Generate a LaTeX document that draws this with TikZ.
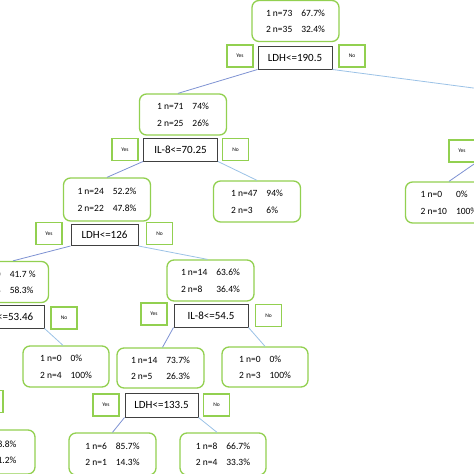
\documentclass[tikz,border=0pt]{standalone}
\usepackage{fontspec}
\setmainfont{Carlito}
\definecolor{boxgreen}{RGB}{146,208,80}
\definecolor{splitgray}{RGB}{64,64,64}
\definecolor{yesblue}{RGB}{125,145,210}
\definecolor{noblue}{RGB}{155,194,230}
\tikzset{
  datbox/.style={draw=boxgreen,line width=1.3pt,rounded corners=7pt,fill=white,
    minimum width=87,minimum height=41,inner sep=0pt,font=\fontsize{9.5}{16.5}\selectfont},
  splitbox/.style={draw=splitgray,line width=1pt,fill=white,
    minimum width=74,minimum height=23,inner sep=0pt,font=\fontsize{11}{13}\selectfont},
  ynbox/.style={draw=boxgreen,line width=1.3pt,fill=white,
    minimum width=26,minimum height=22,inner sep=0pt,font=\fontsize{5.5}{6}\selectfont},
  yesline/.style={draw=yesblue,line width=0.8pt},
  noline/.style={draw=noblue,line width=0.8pt}
}
\newcommand{\cnt}[4]{\begin{tabular}{@{}l@{\hspace{9pt}}l@{}}1 n=#1 & #2\\2 n=#3 & #4\end{tabular}}
\begin{document}
\begin{tikzpicture}[x=1pt,y=-1pt]
  \useasboundingbox (0,0) rectangle (474,474);
  \clip (0,0) rectangle (474,474);

  % Корінь: LDH.
  \node[datbox] (n0) at (295.5,21) {\cnt{73}{67.7\%}{35}{32.4\%}};
  \node[splitbox] (s0) at (295,57.5) {LDH<=190.5};
  \node[ynbox] (y0) at (240,56) {Yes};
  \node[ynbox] (o0) at (352,56) {No};
  \coordinate (n9) at (519,94);
  \coordinate (s9) at (477,162);

  % Ліва гілка: IL-8.
  \node[datbox] (n1) at (183,114.5) {\cnt{71}{74\%}{25}{26\%}};
  \node[splitbox] (s1) at (180.5,149.5) {IL-8<=70.25};
  \node[ynbox] (y1) at (125,149.5) {Yes};
  \node[ynbox] (o1) at (235.5,149.5) {No};

  \node[datbox,minimum height=43] (n2) at (107,199.5) {\cnt{24}{52.2\%}{22}{47.8\%}};
  \node[splitbox,minimum width=67,minimum height=21] (s2) at (104.5,235) {LDH<=126};
  \node[ynbox] (y2) at (49,233.5) {Yes};
  \node[ynbox] (o2) at (159.5,233.5) {No};

  \node[datbox] (n3) at (257,201.5) {\cnt{47}{94\%}{3}{6\%}};

  \node[datbox] (n4) at (5,282) {\cnt{10}{41.7 \%}{14}{58.3\%}};
  \node[splitbox] (s4) at (7,316.5) {IL-8<=53.46};
  \node[ynbox] (o4) at (64,318) {No};

  \node[datbox] (n5) at (210.5,280.5) {\cnt{14}{63.6\%}{8}{36.4\%}};
  \node[splitbox] (s5) at (211,315.5) {IL-8<=54.5};
  \node[ynbox] (y5) at (154,314) {Yes};
  \node[ynbox] (o5) at (268.5,315.5) {No};

  \node[datbox,minimum width=86] (n6) at (66,366.5) {\cnt{0}{0\%}{4}{100\%}};

  \node[datbox,minimum height=40] (n7) at (160.5,368) {\cnt{14}{73.7\%}{5}{26.3\%}};
  \node[splitbox,minimum width=73,minimum height=24] (s7) at (161.5,405) {LDH<=133.5};
  \node[ynbox] (y7) at (106,405) {Yes};
  \node[ynbox] (o7) at (216.5,405) {No};

  \node[datbox,minimum width=86,minimum height=40] (n8) at (265,367) {\cnt{0}{0\%}{3}{100\%}};

  \node[datbox,minimum height=42] (n10) at (112.5,454) {\cnt{6}{85.7\%}{1}{14.3\%}};
  \node[datbox,minimum width=86,minimum height=42] (n11) at (223,454) {\cnt{8}{66.7\%}{4}{33.3\%}};

  \node[ynbox] (o12) at (-10,401.5) {No};
  \node[datbox,minimum width=96,minimum height=44] (n12) at (-13,452) {\cnt{10}{58.8\%}{7}{41.2\%}};

  % Права гілка.
  \node[ynbox] (y9) at (462,151) {Yes};
  \node[datbox] (n13) at (449,202.5) {\cnt{0}{0\%}{10}{100\%}};

  % З'єднання.
  \draw[yesline] (s0.south west) -- ([xshift=-5]n1.north);
  \draw[noline] (s0.south east) -- (n9);
  \draw[yesline] (s1.south west) -- (n2.north);
  \draw[noline] (s1.south east) -- (n3.north);
  \draw[yesline] (s2.south west) -- ([xshift=8]n4.north);
  \draw[noline] (s2.south east) -- ([xshift=-3]n5.north);
  \draw[noline] (s4.south east) -- ([xshift=-3]n6.north);
  \draw[yesline] (s5.south west) -- ([xshift=2]n7.north);
  \draw[noline] (s5.south east) -- (n8.north);
  \draw[yesline] (s7.south west) -- (n10.north);
  \draw[noline] (s7.south east) -- ([xshift=-6]n11.north);
  \draw[yesline] (s9) -- (n13.north);
\end{tikzpicture}
\end{document}
